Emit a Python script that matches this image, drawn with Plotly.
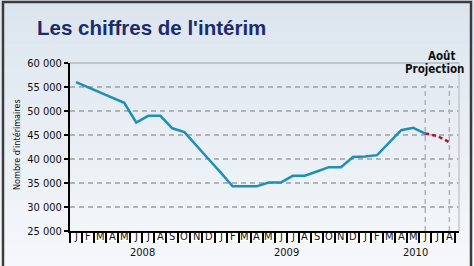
import plotly.graph_objects as go

# ---------------- data ----------------
month_letters = ["J", "F", "M", "A", "M", "J", "J", "A", "S", "O", "N", "D",
                 "J", "F", "M", "A", "M", "J", "J", "A", "S", "O", "N", "D",
                 "J", "F", "M", "A", "M", "J", "J", "A"]
years = ["2008", "2009", "2010"]
year_pos = [5.5, 17.5, 28.2]  # month-index centre of each year label

# actual values Jan 2008 .. Jun 2010
actual = [56000, 54900, 53800, 52700, 51700, 47600, 49000, 49000, 46400, 45600,
          42700, 40000, 37200, 34300, 34300, 34300, 35100, 35100, 36500, 36500,
          37400, 38300, 38300, 40400, 40500, 40800, 43400, 46000, 46500, 45300]
# projection Jun .. Aug 2010
projection = [45300, 44800, 43500]

y_ticks = [25000, 30000, 35000, 40000, 45000, 50000, 55000, 60000]
y_ticktext = ["25 000", "30 000", "35 000", "40 000", "45 000", "50 000", "55 000", "60 000"]

title_text = "Les chiffres de l'intérim"
y_title = "Nombre d'intérimaires"
proj_label_1 = "Août"
proj_label_2 = "Projection"

# ---------------- layout geometry ----------------
W, H = 474, 266
L, R, T, B = 70, 15, 63, 35
PW, PH = W - L - R, H - T - B


def px(x):
    return (x - L) / PW


def py(y):
    return (H - B - y) / PH


COND = "Liberation Sans Narrow, DejaVu Sans Condensed, Arial Narrow, sans-serif"

x_actual = list(range(len(actual)))
x_proj = list(range(len(actual) - 1, len(actual) - 1 + len(projection)))

fig = go.Figure()
fig.add_trace(go.Scatter(x=x_actual, y=actual, mode="lines",
                         line=dict(color="#1f8fb3", width=2.5), hoverinfo="skip"))
fig.add_trace(go.Scatter(x=x_proj, y=projection, mode="lines",
                         line=dict(color="#b3122e", width=2.5, dash="4px,3px"), hoverinfo="skip"))

shapes = []
# gradient background
n = 24
top_c = (220, 229, 238)
bot_c = (245, 247, 250)
for i in range(n):
    f = i / (n - 1)
    c = tuple(round(top_c[k] + (bot_c[k] - top_c[k]) * f) for k in range(3))
    y0 = H * i / n
    y1 = H * (i + 1) / n + 0.5
    shapes.append(dict(type="rect", xref="paper", yref="paper", x0=px(0), x1=px(W),
                       y0=py(y1), y1=py(y0), fillcolor="rgb(%d,%d,%d)" % c,
                       line=dict(width=0), layer="below"))
# white month boxes
shapes.append(dict(type="rect", xref="x", yref="paper", x0=-0.5, x1=len(month_letters) - 0.5,
                   y0=py(241), y1=py(231), fillcolor="white", line=dict(width=0), layer="below"))
# plot border top & right
shapes.append(dict(type="line", xref="paper", yref="paper", x0=0, x1=1, y0=1, y1=1,
                   line=dict(color="#b4b8bd", width=1.5)))
shapes.append(dict(type="line", xref="paper", yref="paper", x0=1, x1=1, y0=0, y1=1,
                   line=dict(color="#c4c8cc", width=1.5)))
# projection vertical dashed lines
for xv in [x_proj[0], x_proj[-1]]:
    shapes.append(dict(type="line", xref="x", yref="y", x0=xv, x1=xv, y0=25000, y1=55500,
                       line=dict(color="#b0b3b8", width=1.5, dash="5px,4px"), layer="below"))
# outer frame
shapes.append(dict(type="rect", xref="paper", yref="paper", x0=px(3), x1=px(471),
                   y0=py(268), y1=py(2), line=dict(color="#3c3c3c", width=2.5),
                   fillcolor="rgba(0,0,0,0)"))

annotations = []
annotations.append(dict(text="<b>" + title_text + "</b>", xref="paper", yref="paper",
                        x=px(35), y=py(27), xanchor="left", yanchor="middle", showarrow=False,
                        font=dict(family="Liberation Sans, Arial, sans-serif", size=20.5, color="#1c2b6d")))
annotations.append(dict(text=y_title, xref="paper", yref="paper", x=px(17), y=py(145),
                        textangle=-90, showarrow=False, xanchor="center", yanchor="middle",
                        font=dict(family=COND, size=9, color="#111")))
annotations.append(dict(text="<b>" + proj_label_1 + "</b>", xref="paper", yref="paper",
                        x=px(441), y=py(56), showarrow=False, xanchor="center", yanchor="middle",
                        font=dict(family=COND, size=11.5, color="#111")))
annotations.append(dict(text="<b>" + proj_label_2 + "</b>", xref="paper", yref="paper",
                        x=px(434), y=py(69), showarrow=False, xanchor="center", yanchor="middle",
                        font=dict(family=COND, size=11.5, color="#111")))
for i, m in enumerate(month_letters):
    annotations.append(dict(text=m, xref="x", yref="paper", x=i, y=py(236.5), showarrow=False,
                            xanchor="center", yanchor="middle",
                            font=dict(family=COND, size=11, color="#111")))
for yr, pos in zip(years, year_pos):
    annotations.append(dict(text=yr, xref="x", yref="paper", x=pos, y=py(252), showarrow=False,
                            xanchor="center", yanchor="middle",
                            font=dict(family=COND, size=11, color="#111")))

fig.update_layout(
    width=W, height=H,
    margin=dict(l=L, r=R, t=T, b=B, pad=0),
    paper_bgcolor="#e6edf3",
    plot_bgcolor="rgba(0,0,0,0)",
    showlegend=False,
    shapes=shapes,
    annotations=annotations,
    xaxis=dict(range=[-0.5, len(month_letters) - 0.2], showgrid=False, zeroline=False,
               showline=True, linecolor="black", linewidth=2,
               tickvals=[i - 0.5 for i in range(len(month_letters) + 1)],
               ticks="outside", ticklen=10, tickwidth=1.5, tickcolor="black",
               showticklabels=False, fixedrange=True),
    yaxis=dict(range=[25000, 60000], tickvals=y_ticks, ticktext=y_ticktext,
               showgrid=True, gridcolor="#b0b3b8", gridwidth=1.5, griddash="5px,4px",
               zeroline=False, showline=True, linecolor="black", linewidth=2,
               ticks="outside", ticklen=4, tickwidth=2, tickcolor="black",
               tickfont=dict(family=COND, size=11, color="#111"), fixedrange=True),
)

fig.write_html("out.html")
